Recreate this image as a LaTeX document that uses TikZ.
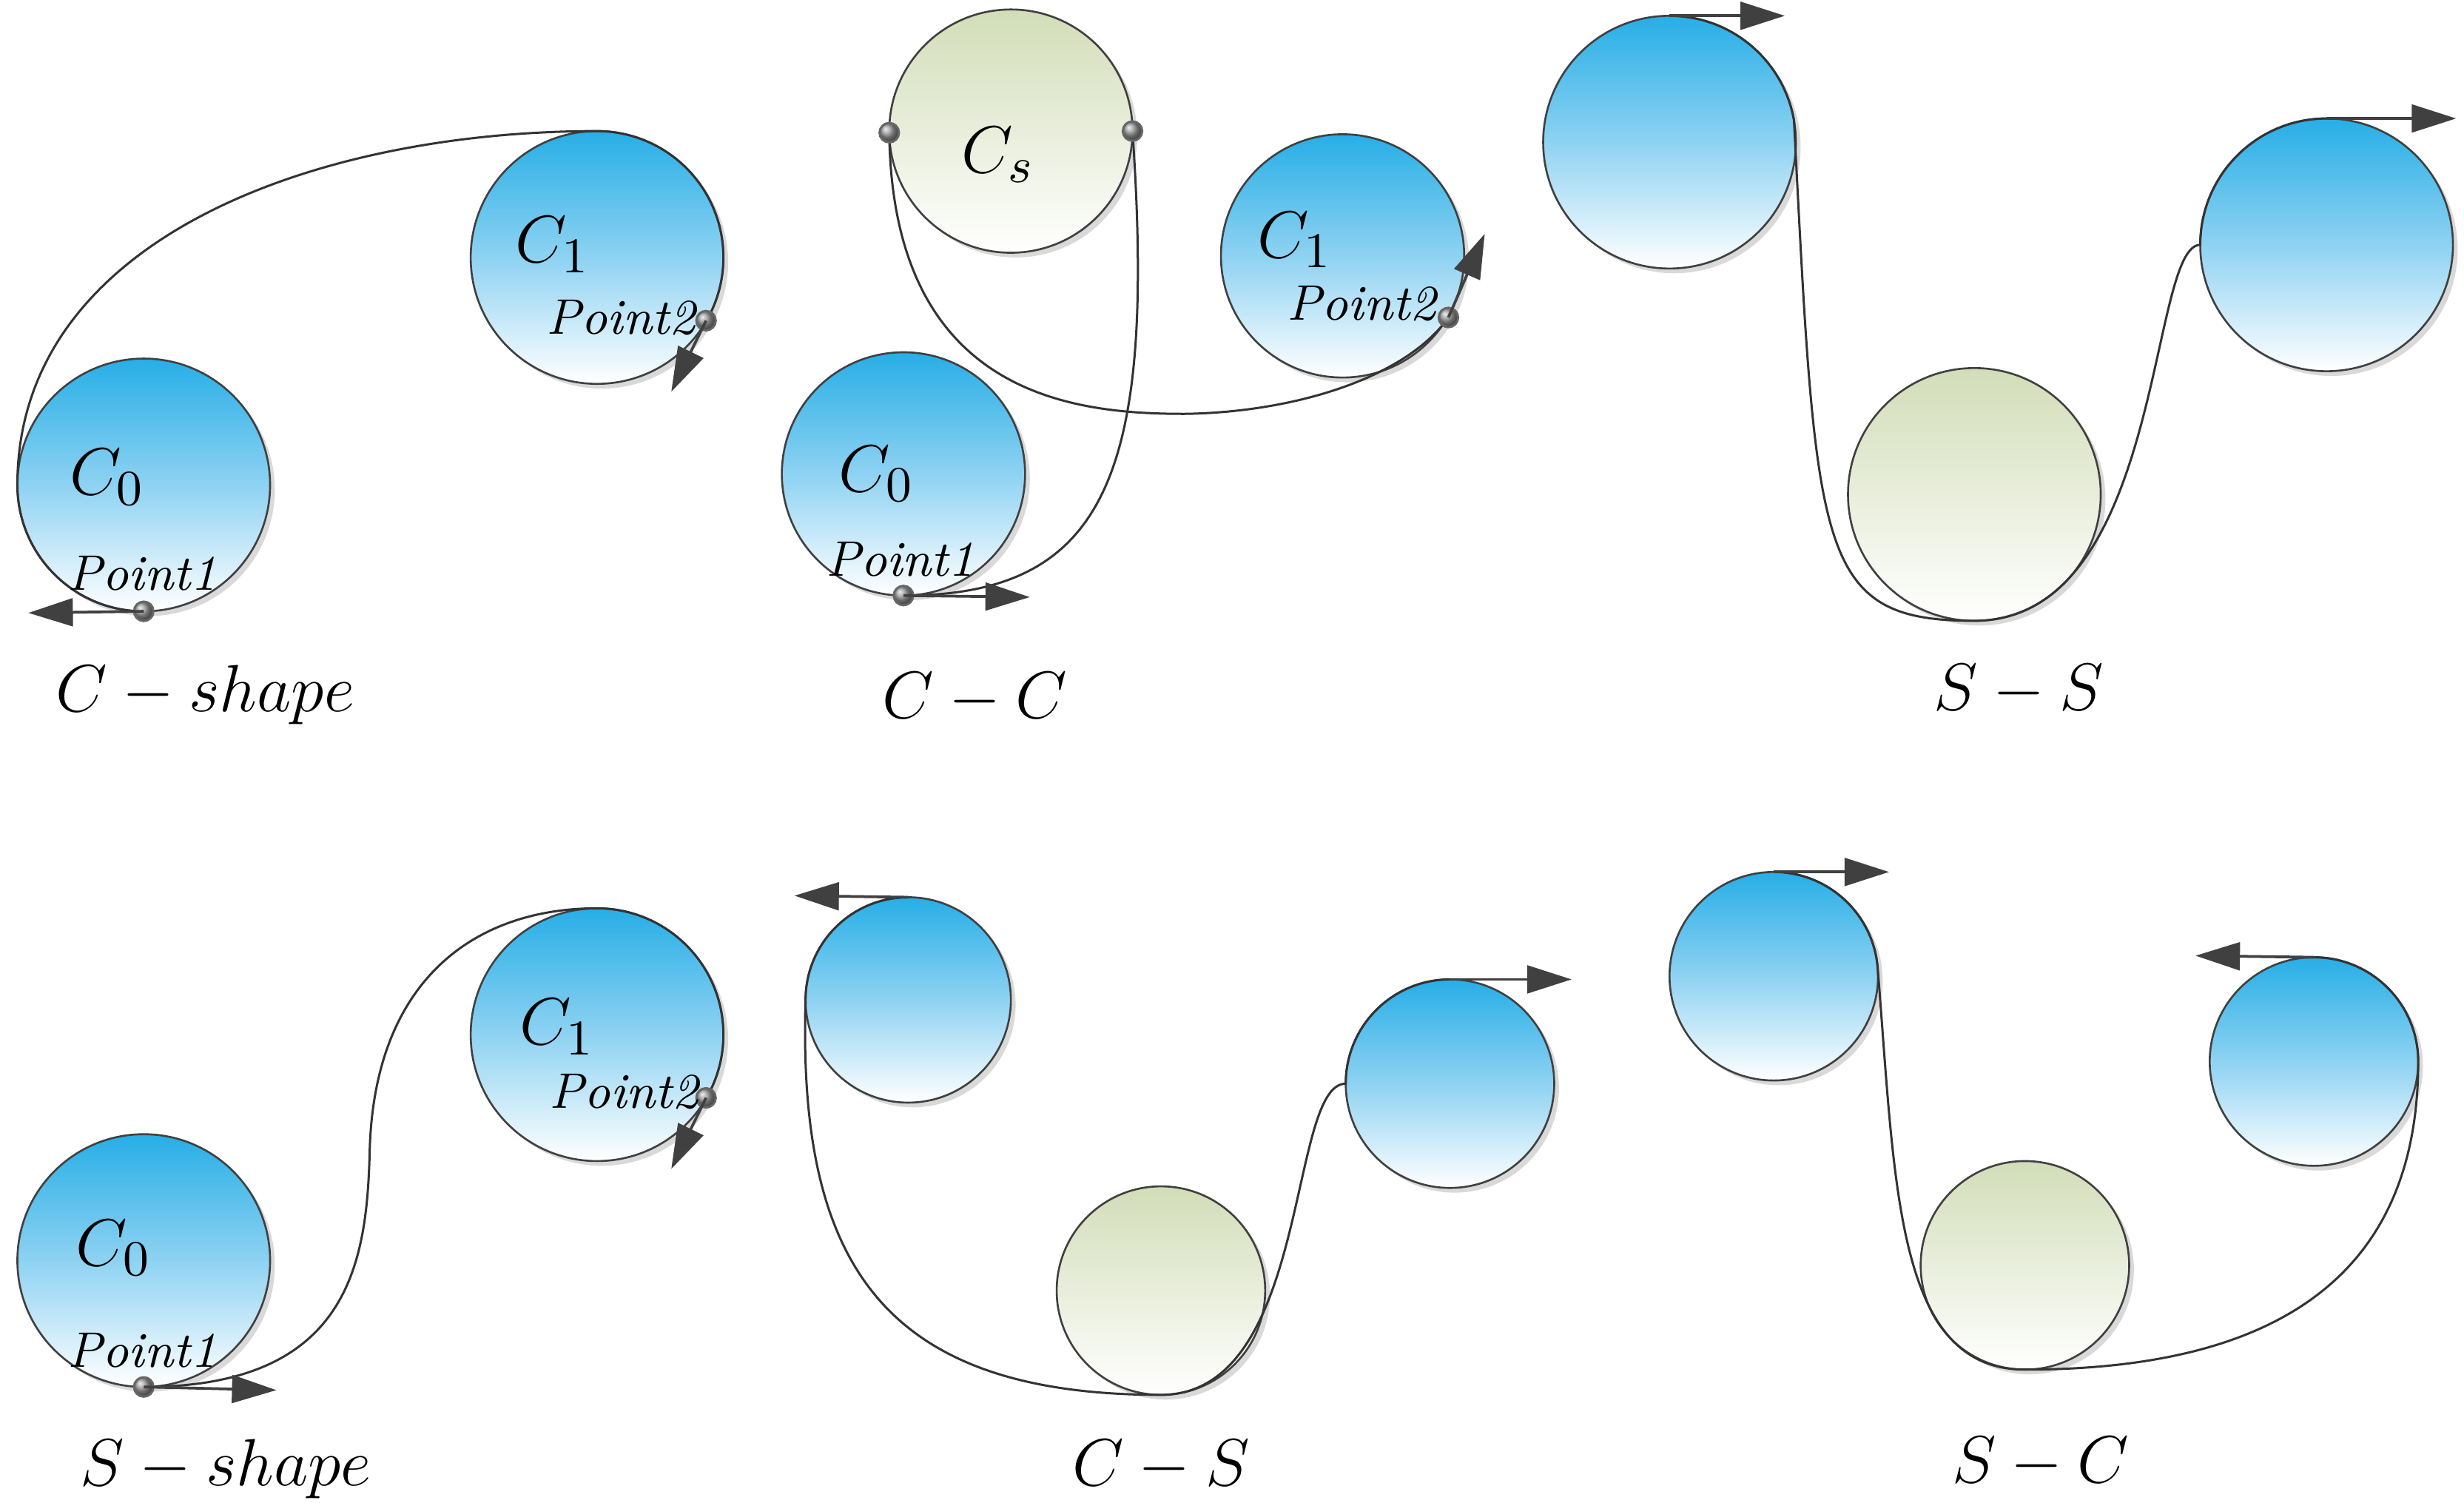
\documentclass[tikz,border=0pt]{standalone}
\usetikzlibrary{arrows.meta}
\definecolor{bl}{HTML}{27AEE6}
\definecolor{blm}{HTML}{8ED2F2}
\definecolor{gr}{HTML}{D2DDB8}
\begin{document}
\begin{tikzpicture}[x=0.01cm,y=0.01cm,
  bluec/.style={draw=black!75,line width=0.35pt,top color=bl,bottom color=white,middle color=blm},
  greenc/.style={draw=black!75,line width=0.35pt,top color=gr,bottom color=white},
  shad/.style={fill=black!15,draw=none},
  path/.style={draw=black!80,line width=0.4pt},
  dir/.style={draw=black!75,line width=0.5pt,-{Triangle[length=8pt,width=5pt]}},
  dot/.style={circle,inner sep=0pt,minimum size=3.5pt,ball color=black!40,draw=black!60},
  big/.style={font=\fontsize{12.5}{15}\selectfont},
  pt/.style={font=\fontsize{9}{11}\selectfont\itshape},
  lab/.style={font=\fontsize{12}{14}\selectfont}]
\useasboundingbox (0,0) rectangle (1560,951);
\newcommand{\mycirc}[4]{\fill[shad] (#1+3,#2-3) circle (#3); \draw[#4] (#1,#2) circle (#3);}
% ---------- C-shape
\mycirc{91}{644}{80}{bluec}\mycirc{378}{788}{80}{bluec}
\draw[path] (91,564) arc[start angle=270,end angle=180,radius=80] .. controls (11,800) and (200,868) .. (378,868) arc[start angle=90,end angle=-30,radius=80];
\node[dot] (p1a) at (91,564) {}; \coordinate (e1a) at (18,563);
\node[dot] (p2a) at (447,748) {}; \coordinate (e2a) at (425,703);
\draw[dir] (p1a.center) -- (e1a); \draw[dir] (p2a.center) -- (e2a);
\node[big] (c0a) at (68,649) {$C_0$}; \node[big] (c1a) at (350,796) {$C_1$};
\node[pt] (t1a) at (90,588) {Point1}; \node[pt] (t2a) at (393,750) {Point2};
\node[lab] (la) at (130,511) {$C-shape$};
% ---------- C-C
\mycirc{640}{868}{77}{greenc}\mycirc{850}{789}{77}{bluec}\mycirc{572}{651}{77}{bluec}
\draw[path] (717,868) .. controls (732,650) and (700,574) .. (572,574);
\draw[path] (563,867) .. controls (565,700) and (680,689) .. (750,689) .. controls (820,690) and (890,712) .. (917,750);
\node[dot] (csl) at (563,867) {}; \node[dot] (csr) at (717,868) {};
\node[dot] (p1b) at (572,574) {}; \coordinate (e1b) at (652,573);
\node[dot] (p2b) at (917,750) {}; \coordinate (e2b) at (940,803);
\draw[dir] (p1b.center) -- (e1b); \draw[dir] (p2b.center) -- (e2b);
\node[big] (csb) at (632,853) {$C_s$}; \node[big] (c1b) at (820,799) {$C_1$};
\node[big] (c0b) at (555,651) {$C_0$};
\node[pt] (t1b) at (570,597) {Point1}; \node[pt] (t2b) at (862,759) {Point2};
\node[lab] (lb) at (617,509) {$C-C$};
% ---------- S-S
\mycirc{1057}{861}{80}{bluec}\mycirc{1250}{638}{80}{greenc}\mycirc{1473}{796}{80}{bluec}
\draw[path] (1057,941) arc[start angle=90,end angle=10,radius=80] .. controls (1150,600) and (1150,558) .. (1250,558) .. controls (1370,558) and (1360,796) .. (1393,796) arc[start angle=180,end angle=90,radius=80];
\coordinate (sa) at (1057,941); \coordinate (sae) at (1130,941);
\coordinate (sb) at (1473,876); \coordinate (sbe) at (1555,876);
\draw[dir] (sa) -- (sae); \draw[dir] (sb) -- (sbe);
\node[lab] (lc) at (1278,514) {$S-S$};
% ---------- S-shape
\mycirc{91}{153}{80}{bluec}\mycirc{378}{296}{80}{bluec}
\draw[path] (91,73) .. controls (220,73) and (232,150) .. (234,220) .. controls (236,330) and (300,376) .. (378,376) arc[start angle=90,end angle=-30,radius=80];
\node[dot] (p1d) at (91,73) {}; \coordinate (e1d) at (175,71);
\node[dot] (p2d) at (447,256) {}; \coordinate (e2d) at (425,211);
\draw[dir] (p1d.center) -- (e1d); \draw[dir] (p2d.center) -- (e2d);
\node[big] (c0d) at (72,161) {$C_0$}; \node[big] (c1d) at (353,301) {$C_1$};
\node[pt] (t1d) at (90,96) {Point1}; \node[pt] (t2d) at (395,260) {Point2};
\node[lab] (ld) at (143,21) {$S-shape$};
% ---------- C-S
\mycirc{575}{318}{65}{bluec}\mycirc{735}{134}{66}{greenc}\mycirc{918}{265}{66}{bluec}
\draw[path] (575,383) arc[start angle=90,end angle=180,radius=65] .. controls (505,150) and (560,68) .. (735,68) .. controls (830,68) and (815,265) .. (852,265) arc[start angle=180,end angle=90,radius=66];
\coordinate (ca) at (575,383); \coordinate (cae) at (503,384);
\coordinate (cb) at (918,331); \coordinate (cbe) at (995,331);
\draw[dir] (ca) -- (cae); \draw[dir] (cb) -- (cbe);
\node[lab] (le) at (735,23) {$C-S$};
% ---------- S-C
\mycirc{1123}{333}{66}{bluec}\mycirc{1282}{150}{66}{greenc}\mycirc{1465}{279}{66}{bluec}
\draw[path] (1123,399) arc[start angle=90,end angle=5,radius=66] .. controls (1200,200) and (1200,84) .. (1282,84) .. controls (1450,84) and (1531,150) .. (1531,279) arc[start angle=0,end angle=90,radius=66];
\coordinate (da) at (1123,399); \coordinate (dae) at (1196,399);
\coordinate (db) at (1465,345); \coordinate (dbe) at (1390,346);
\draw[dir] (da) -- (dae); \draw[dir] (db) -- (dbe);
\node[lab] (lf) at (1292,25) {$S-C$};
\end{tikzpicture}
\end{document}
